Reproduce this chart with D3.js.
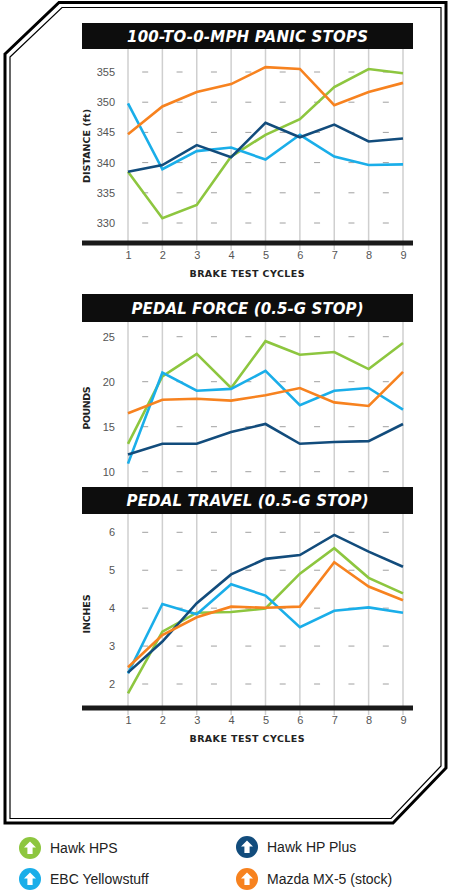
<!DOCTYPE html>
<html>
<head>
<meta charset="utf-8">
<script src="https://cdn.jsdelivr.net/npm/d3@7"></script>
<style>
  body { margin: 0; background: #fff; }
  svg { display: block; }
</style>
</head>
<body>
<div id="chart"></div>
<script>
// brake test cycles 1..9
const cycles = [1, 2, 3, 4, 5, 6, 7, 8, 9]

const seriesNames = ['Hawk HPS', 'EBC Yellowstuff', 'Hawk HP Plus', 'Mazda MX-5 (stock)']
const colors = ['#8dc63f', '#1aaee9', '#124c7c', '#f7821f']

// 100-to-0-mph panic stops, distance (ft)
const panicHawkHps = [338.5, 330.8, 333.0, 341.0, 344.6, 347.2, 352.5, 355.5, 354.8]
const panicEbc = [349.8, 338.9, 341.9, 342.5, 340.5, 344.6, 341.0, 339.6, 339.7]
const panicHawkHpPlus = [338.5, 339.6, 342.9, 340.9, 346.6, 344.2, 346.3, 343.5, 344.0]
const panicMazda = [344.7, 349.3, 351.7, 353.0, 355.8, 355.5, 349.5, 351.7, 353.2]

// pedal force (pounds)
const forceHawkHps = [13.1, 20.6, 23.1, 19.3, 24.5, 23.0, 23.3, 21.4, 24.3]
const forceEbc = [10.9, 21.0, 19.0, 19.2, 21.2, 17.4, 19.0, 19.3, 16.9]
const forceHawkHpPlus = [11.9, 13.1, 13.1, 14.4, 15.3, 13.1, 13.3, 13.4, 15.3]
const forceMazda = [16.5, 18.0, 18.1, 17.9, 18.5, 19.3, 17.7, 17.3, 21.1]

// pedal travel (inches)
const travelHawkHps = [1.75, 3.38, 3.88, 3.90, 3.99, 4.91, 5.58, 4.80, 4.39]
const travelEbc = [2.28, 4.11, 3.84, 4.63, 4.33, 3.50, 3.93, 4.02, 3.88]
const travelHawkHpPlus = [2.30, 3.12, 4.13, 4.89, 5.30, 5.40, 5.93, 5.49, 5.09]
const travelMazda = [2.44, 3.29, 3.76, 4.04, 4.01, 4.04, 5.21, 4.57, 4.21]

const panicTicks = [330, 335, 340, 345, 350, 355]
const forceTicks = [10, 15, 20, 25]
const travelTicks = [2, 3, 4, 5, 6]

const width = 450
const height = 895

var svg = d3.select('#chart')
    .append('svg')
    .attr('width', width)
    .attr('height', height)

// double frame
svg.append('path')
    .attr('d', 'M5,54 L59,2.5 L446,2.5 L446,768 L393,823 L5,823 Z')
    .attr('fill', 'none')
    .attr('stroke', '#000')
    .attr('stroke-width', 3)
svg.append('path')
    .attr('d', 'M10,57 L62,7.5 L441,7.5 L441,766 L391,818.5 L10,818.5 Z')
    .attr('fill', 'none')
    .attr('stroke', '#000')
    .attr('stroke-width', 1.2)

var x_scale = d3.scaleLinear()
    .domain([1, 9])
    .range([128, 403])

const left = 82
const right = 413

function titleBar(text, top, bottom, len){
    svg.append('rect')
        .attr('x', left)
        .attr('y', top)
        .attr('width', right - left)
        .attr('height', bottom - top)
        .attr('fill', '#0d0d0d')
    svg.append('text')
        .attr('x', (left + right) / 2)
        .attr('y', (top + bottom) / 2 + 5.5)
        .attr('text-anchor', 'middle')
        .attr('font-family', 'DejaVu Sans')
        .attr('font-weight', 'bold')
        .attr('font-style', 'italic')
        .attr('font-size', 15)
        .attr('textLength', len)
        .attr('fill', '#fff')
        .text(text)
}

function panel(opts){
    var y_scale = d3.scaleLinear()
        .domain(opts.domain)
        .range(opts.range)

    var g = svg.append('g')

    // vertical grid
    g.selectAll('.grid')
        .data(cycles)
        .enter()
        .append('line')
        .attr('x1', d => x_scale(d))
        .attr('x2', d => x_scale(d))
        .attr('y1', opts.gridTop)
        .attr('y2', opts.gridBottom)
        .attr('stroke', '#cfcfcf')
        .attr('stroke-width', 1.5)

    // little dashes between grid lines
    var mids = cycles.slice(0, -1).map(d => d + 0.5)
    opts.ticks.forEach(function(t){
        g.selectAll(null)
            .data(mids)
            .enter()
            .append('line')
            .attr('x1', d => x_scale(d) - 3)
            .attr('x2', d => x_scale(d) + 3)
            .attr('y1', y_scale(t))
            .attr('y2', y_scale(t))
            .attr('stroke', '#a0a0a0')
            .attr('stroke-width', 1)
    })

    // y axis labels
    var y_axis = d3.axisLeft(y_scale)
        .tickValues(opts.ticks)
        .tickFormat(d3.format('d'))
        .tickSize(0)
        .tickPadding(0)
    var ya = svg.append('g')
        .attr('transform', 'translate(115,0)')
        .call(y_axis)
    ya.select('.domain').remove()
    ya.selectAll('text')
        .attr('font-family', 'Liberation Sans')
        .attr('font-size', 11)
        .attr('fill', '#555')

    svg.append('text')
        .attr('transform', 'translate(90,' + opts.labelY + ') rotate(-90)')
        .attr('text-anchor', 'middle')
        .attr('font-family', 'DejaVu Sans')
        .attr('font-weight', 'bold')
        .attr('font-size', 9.5)
        .attr('textLength', opts.labelLen)
        .attr('fill', '#222')
        .text(opts.label)

    // bottom bar and x axis
    if (opts.barY){
        svg.append('rect')
            .attr('x', left)
            .attr('y', opts.barY - 2.5)
            .attr('width', right - left)
            .attr('height', 5)
            .attr('fill', '#1a1a1a')
        var x_axis = d3.axisBottom(x_scale)
            .tickValues(cycles)
            .tickSize(0)
            .tickPadding(0)
        var xa = svg.append('g')
            .attr('transform', 'translate(0,' + (opts.barY + 8) + ')')
            .call(x_axis)
        xa.select('.domain').remove()
        xa.selectAll('text')
            .attr('font-family', 'Liberation Sans')
            .attr('font-size', 11)
            .attr('fill', '#555')
        svg.append('text')
            .attr('x', 247)
            .attr('y', opts.barY + 34)
            .attr('text-anchor', 'middle')
            .attr('font-family', 'DejaVu Sans')
            .attr('font-weight', 'bold')
            .attr('font-size', 9.5)
            .attr('textLength', 115)
            .attr('fill', '#222')
            .text('BRAKE TEST CYCLES')
    }

    var line = d3.line()
        .x((d, i) => x_scale(cycles[i]))
        .y(d => y_scale(d))

    svg.append('g')
        .selectAll('path')
        .data(opts.series)
        .enter()
        .append('path')
        .attr('d', d => line(d.values))
        .attr('fill', 'none')
        .attr('stroke', d => d.color)
        .attr('stroke-width', 2.6)

    titleBar(opts.title, opts.titleTop, opts.titleBottom, opts.titleLen)
}

panel({
    title: '100-TO-0-MPH PANIC STOPS',
    titleTop: 23, titleBottom: 49, titleLen: 241,
    domain: [330, 355], range: [223, 72],
    ticks: panicTicks,
    gridTop: 49, gridBottom: 250,
    barY: 243,
    label: 'DISTANCE (ft)', labelY: 146, labelLen: 74,
    series: [
        {values: panicHawkHps, color: colors[0]},
        {values: panicEbc, color: colors[1]},
        {values: panicHawkHpPlus, color: colors[2]},
        {values: panicMazda, color: colors[3]}
    ]
})

panel({
    title: 'PEDAL FORCE (0.5-G STOP)',
    titleTop: 294, titleBottom: 322, titleLen: 232,
    domain: [10, 25], range: [471.7, 336.7],
    ticks: forceTicks,
    gridTop: 322, gridBottom: 487,
    barY: null,
    label: 'POUNDS', labelY: 408, labelLen: 43,
    series: [
        {values: forceHawkHps, color: colors[0]},
        {values: forceEbc, color: colors[1]},
        {values: forceHawkHpPlus, color: colors[2]},
        {values: forceMazda, color: colors[3]}
    ]
})

panel({
    title: 'PEDAL TRAVEL (0.5-G STOP)',
    titleTop: 487, titleBottom: 514, titleLen: 242,
    domain: [2, 6], range: [684, 532.3],
    ticks: travelTicks,
    gridTop: 514, gridBottom: 715,
    barY: 708,
    label: 'INCHES', labelY: 614, labelLen: 39,
    series: [
        {values: travelHawkHps, color: colors[0]},
        {values: travelEbc, color: colors[1]},
        {values: travelHawkHpPlus, color: colors[2]},
        {values: travelMazda, color: colors[3]}
    ]
})

// legend
const legendPos = [[30, 848], [30, 879], [247, 847], [247, 879]]
var legend = svg.append('g')
    .selectAll('g')
    .data(seriesNames)
    .enter()
    .append('g')
    .attr('transform', (d, i) => 'translate(' + legendPos[i][0] + ',' + legendPos[i][1] + ')')
legend.append('circle')
    .attr('r', 11)
    .attr('fill', (d, i) => colors[i])
legend.append('path')
    .attr('d', 'M0,-6.5 L6,-0.5 L2.6,-0.5 L2.6,6 L-2.6,6 L-2.6,-0.5 L-6,-0.5 Z')
    .attr('fill', '#fff')
legend.append('text')
    .attr('x', 20)
    .attr('y', 5)
    .attr('font-family', 'Liberation Sans')
    .attr('font-size', 14)
    .attr('fill', '#222')
    .text(d => d)
</script>
</body>
</html>
